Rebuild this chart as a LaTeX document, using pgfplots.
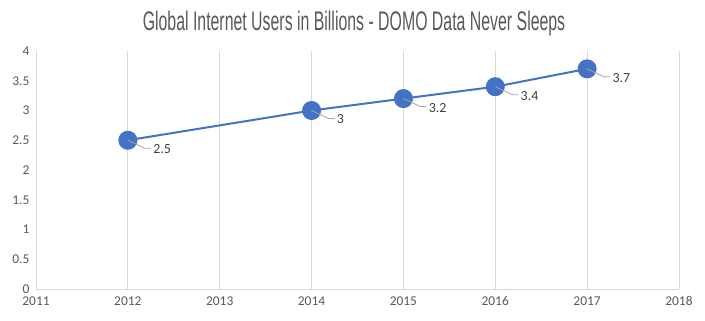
\documentclass[border=0pt]{standalone}
\usepackage{fontspec}
\setmainfont{Carlito}
\newfontfamily\titlefont[FakeStretch=0.59]{Liberation Sans}
\usepackage{pgfplots}
\pgfplotsset{compat=1.18}
\definecolor{serblue}{HTML}{4472C4}
\definecolor{ticktext}{HTML}{595959}
\definecolor{labtext}{HTML}{404040}
\definecolor{gridc}{HTML}{D9D9D9}
\definecolor{leadc}{HTML}{A6A6A6}
\pgfdeclareplotmark{leader}{%
  \pgfpathmoveto{\pgfpoint{0bp}{0bp}}%
  \pgfpathlineto{\pgfpoint{17bp}{-8bp}}%
  \pgfpathlineto{\pgfpoint{23bp}{-8bp}}%
  \pgfusepathqstroke}
\begin{document}
\begin{tikzpicture}
\useasboundingbox (-36bp,-32bp) rectangle (669bp,289bp);
\begin{axis}[
  at={(0,0)}, anchor=south west,
  scale only axis, width=643bp, height=238bp,
  xmin=2011, xmax=2018, ymin=0, ymax=4,
  xtick={2011,...,2018}, ytick={0,0.5,...,4},
  xticklabel style={/pgf/number format/1000 sep={}},
  /pgf/number format/assume math mode=true,
  axis x line=bottom, axis y line=left,
  x axis line style={-, draw=gridc, line width=0.8bp},
  y axis line style={draw=none},
  tick style={draw=none},
  xmajorgrids, major grid style={draw=gridc, line width=0.8bp},
  ticklabel style={font=\fontsize{13.5}{15}\selectfont, text=ticktext},
  xticklabel style={yshift=-2bp},
  yticklabel style={xshift=-1bp},
  clip=false,
]
\addplot[draw=serblue, line width=2bp, mark=*, mark size=8.5bp,
  mark options={fill=serblue, draw=serblue}] coordinates {
  (2012,2.5) (2014,3) (2015,3.2) (2016,3.4) (2017,3.7)
};
\addplot[only marks, draw=leadc, mark=leader, mark options={draw=leadc, line width=0.8bp},
  nodes near coords,
  every node near coord/.style={anchor=west, xshift=24bp, yshift=-9bp,
     inner sep=1bp, font=\fontsize{14}{16}\selectfont, text=labtext},
] coordinates {
  (2012,2.5) (2014,3) (2015,3.2) (2016,3.4) (2017,3.7)
};
\end{axis}
\node[font=\titlefont\fontsize{27}{30}\selectfont, text=ticktext] at (318bp,265bp) {Global Internet Users in Billions - DOMO Data Never Sleeps};
\end{tikzpicture}
\end{document}
